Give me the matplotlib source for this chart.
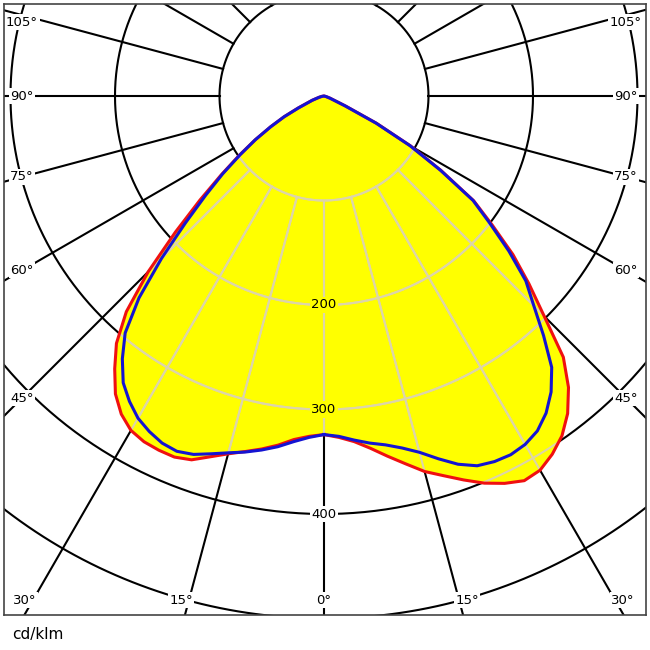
import numpy as np
import matplotlib
matplotlib.use('Agg')
import matplotlib.pyplot as plt

# ---- data (cd/klm), gamma measured from nadir (0 deg = straight down) ----
gamma = [0, 2.5, 5, 7.5, 10, 12.5, 15, 17.5, 20, 22.5, 25, 27.5, 30, 32.5, 35, 37.5,
         40, 42.5, 45, 47.5, 50, 52.5, 55, 57.5, 60, 62.5, 65, 70, 75, 80, 85, 90]
red_right = [324, 327, 332, 340, 350, 360.5, 372, 381, 391, 401, 409, 415, 413.5, 406.5, 397, 383,
             364, 339, 298, 266, 236, 203, 175, 133, 96, 57, 23, 6, 2, 0, 0, 0]
red_left = [324, 326, 330, 337, 343, 348.5, 354.5, 362, 370.5, 374, 374, 373, 369.5, 361, 348, 329,
            309, 280, 238, 193, 155, 124, 99, 78, 59, 43, 27.5, 12, 5, 2, 0, 0]
blue_right = [324, 326, 330.5, 335, 339, 345, 353, 364, 375, 383, 386, 387, 385, 380, 370.5, 357,
              339, 311, 284, 262, 231, 200, 174, 132, 95, 56, 22, 6, 2, 0, 0, 0]
blue_left = [324, 327, 332, 338.5, 344, 349, 353.5, 359, 365, 368, 366.5, 362, 356, 346.5, 335, 317,
             296, 262, 220, 180, 148, 122, 98, 78, 59, 43, 27, 12, 5, 2, 0, 0]

ring_values = [100, 200, 300, 400, 500, 600, 700]
ring_labels = [200, 300, 400]
angle_labels = [0, 15, 30, 45, 60, 75, 90, 105]
unit_text = "cd/klm"

# ---- layout ----
k = 1.045  # px per cd/klm
cx, cy = 324, 96
fig = plt.figure(figsize=(6.5, 6.5), dpi=100)
ax = fig.add_axes([4 / 650, 1 - 615 / 650, 642 / 650, 611 / 650])
ax.set_xlim((4 - cx) / k, (646 - cx) / k)
ax.set_ylim(-(615 - cy) / k, (cy - 4) / k)
ax.set_xticks([])
ax.set_yticks([])
for s in ax.spines.values():
    s.set_color('#444444')
    s.set_linewidth(1.2)
    s.set_zorder(10)


def curve_xy(right, left):
    g = np.radians(gamma)
    r = np.array(right, float)
    l = np.array(left, float)
    x = np.concatenate([r * np.sin(g), (-l * np.sin(g))[::-1]])
    y = np.concatenate([-r * np.cos(g), (-l * np.cos(g))[::-1]])
    return np.append(x, x[0]), np.append(y, y[0])


def draw_grid(color, z, clip=None):
    arts = []
    th = np.linspace(0, 2 * np.pi, 721)
    for rv in ring_values:
        ln, = ax.plot(rv * np.cos(th), rv * np.sin(th), color=color, lw=1.5, zorder=z)
        arts.append(ln)
    for a in range(0, 360, 15):
        ar = np.radians(a)
        rr = np.array([100, 900])
        ln, = ax.plot(rr * np.sin(ar), -rr * np.cos(ar), color=color, lw=1.5, zorder=z)
        arts.append(ln)
    if clip is not None:
        for art in arts:
            art.set_clip_path(clip)


draw_grid('black', 1)

xr, yr = curve_xy(red_right, red_left)
xb, yb = curve_xy(blue_right, blue_left)
pr = ax.fill(xr, yr, color='#ffff00', lw=0, zorder=2)[0]
pb = ax.fill(xb, yb, color='#ffff00', lw=0, zorder=2)[0]
draw_grid('#ddd5a8', 3, clip=pr)
draw_grid('#ddd5a8', 3, clip=pb)

ax.plot(xr, yr, color='#f01010', lw=2.2, zorder=4, solid_joinstyle='round')
ax.plot(xb, yb, color='#1414d2', lw=2.2, zorder=5, solid_joinstyle='round')

# ring labels
for rv in ring_labels:
    inside = rv < 330
    ax.text(0, -rv, str(rv), ha='center', va='center', fontsize=9.5, zorder=6,
            bbox=dict(boxstyle='square,pad=0.12', fc='#ffff00' if inside else 'white', ec='none'))

# angle labels, placed where each spoke meets an inset frame
xl = (22 - cx) / k
yb_ = -(600 - cy) / k
yt = (cy - 22) / k
nudge = 8 / k
for a in angle_labels:
    sides = [1] if a == 0 else [-1, 1]
    ar = np.radians(a)
    for sd in sides:
        dx, dy = sd * np.sin(ar), -np.cos(ar)
        ts = []
        if abs(dx) > 1e-9:
            ts.append(abs(xl) / abs(dx))
        if dy < -1e-9:
            ts.append(abs(yb_) / abs(dy))
        t = min(ts)
        px, py = t * dx, t * dy
        if abs(py - yb_) < 1e-6 and a != 0:
            px += sd * nudge
        py = min(py, yt)
        ax.text(px, py, f"{a}°", ha='center', va='center', fontsize=9.5, zorder=6,
                bbox=dict(boxstyle='square,pad=0.12', fc='white', ec='none'))

fig.text(12 / 650, 1 - 634 / 650, unit_text, ha='left', va='center', fontsize=11)

fig.savefig('out.png', dpi=100)
